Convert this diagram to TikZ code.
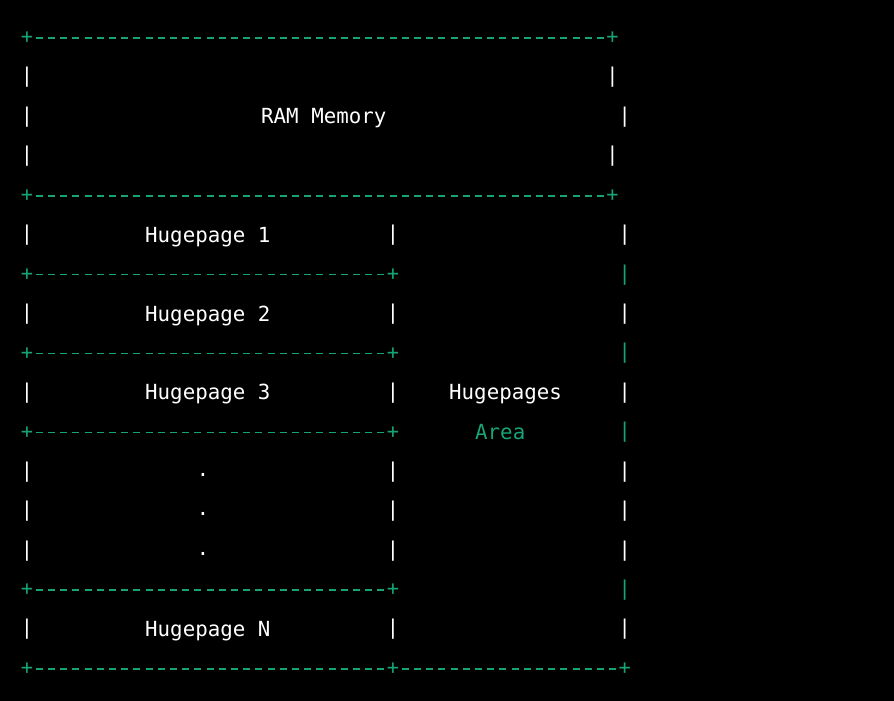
\documentclass[tikz,border=0pt]{standalone}
\usepackage{fontspec}
\setmonofont{DejaVu Sans Mono}
\definecolor{tgreen}{RGB}{22,163,118}
\begin{document}
\begin{tikzpicture}[x=1pt,y=-1pt,
  ch/.style={inner sep=0pt,outer sep=0pt,anchor=center,font=\ttfamily\fontsize{20.3}{22}\selectfont},
  wt/.style={ch,text=white},
  gt/.style={ch,text=tgreen},
  dashline/.style={draw=tgreen,line width=1.7pt,dash pattern=on 7pt off 5.2pt},
  lbl/.style={inner sep=0pt,anchor=base west,font=\ttfamily\fontsize{20.8}{22}\selectfont}]
\fill[black] (0,0) rectangle (894,701);
\useasboundingbox (0,0) rectangle (894,701);
\def\cx#1{27+#1*12.2}
\def\ry#1{38+#1*39.44}
% full separator rows
\foreach \r in {0,4}{
  \node[gt] (p\r a) at ({\cx{0}},{\ry{\r}}) {+};
  \node[gt] (p\r b) at ({\cx{48}},{\ry{\r}}) {+};
  \draw[dashline] ([xshift=2.6pt]p\r a.east) -- ([xshift=-2.6pt]p\r b.west);
}
% inner separators
\foreach \r in {6,8,10,14}{
  \node[gt] (p\r a) at ({\cx{0}},{\ry{\r}}) {+};
  \node[gt] (p\r b) at ({\cx{30}},{\ry{\r}}) {+};
  \draw[dashline] ([xshift=2.6pt]p\r a.east) -- ([xshift=-2.6pt]p\r b.west);
  \node[gt] (v\r r) at ({\cx{49}},{\ry{\r}}) {|};
}
% bottom row
\node[gt] (p16a) at ({\cx{0}},{\ry{16}}) {+};
\node[gt] (p16b) at ({\cx{30}},{\ry{16}}) {+};
\node[gt] (p16c) at ({\cx{49}},{\ry{16}}) {+};
\draw[dashline] ([xshift=2.6pt]p16a.east) -- ([xshift=-2.6pt]p16b.west);
\draw[dashline] ([xshift=2.6pt]p16b.east) -- ([xshift=-2.6pt]p16c.west);
% top box bars
\node[wt] (v1l) at ({\cx{0}},{\ry{1}}) {|};
\node[wt] (v1r) at ({\cx{48}},{\ry{1}}) {|};
\node[wt] (v2l) at ({\cx{0}},{\ry{2}}) {|};
\node[wt] (v2r) at ({\cx{49}},{\ry{2}}) {|};
\node[wt] (v3l) at ({\cx{0}},{\ry{3}}) {|};
\node[wt] (v3r) at ({\cx{48}},{\ry{3}}) {|};
% page rows bars
\foreach \r in {5,7,9,11,12,13,15}{
  \node[wt] (v\r a) at ({\cx{0}},{\ry{\r}}) {|};
  \node[wt] (v\r b) at ({\cx{30}},{\ry{\r}}) {|};
  \node[wt] (v\r c) at ({\cx{49}},{\ry{\r}}) {|};
}
% labels
\node[lbl,text=white] (ram) at (261,{\ry{2}+7}) {RAM Memory};
\node[lbl,text=white] (h1) at (145,{\ry{5}+7}) {Hugepage 1};
\node[lbl,text=white] (h2) at (145,{\ry{7}+7}) {Hugepage 2};
\node[lbl,text=white] (h3) at (145,{\ry{9}+7}) {Hugepage 3};
\node[lbl,text=white] (hn) at (145,{\ry{15}+7}) {Hugepage N};
\node[lbl,text=white] (hps) at (449,{\ry{9}+7}) {Hugepages};
\node[lbl,text=tgreen] (area) at (475,{\ry{10}+7}) {Area};
\foreach \r in {11,12,13}{\node[wt] (dot\r) at (203,{\ry{\r}+3}) {.};}
\end{tikzpicture}
\end{document}
